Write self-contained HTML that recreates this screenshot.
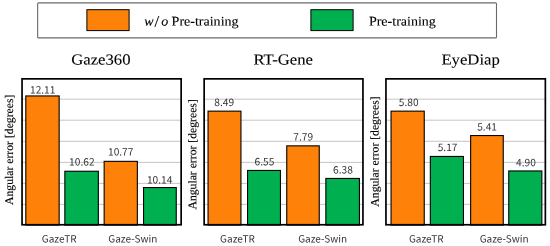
<!DOCTYPE html>
<html lang="en"><head><meta charset="utf-8"><title>Pre-training comparison</title>
<style>html,body{margin:0;padding:0;background:#fff}body{width:550px;height:246px;overflow:hidden}svg{display:block}text{text-rendering:geometricPrecision}</style></head><body>
<svg width="550" height="246" viewBox="0 0 550 246">
<rect width="550" height="246" fill="#fff"/>
<rect x="37.65" y="2.85" width="458.85" height="35.05" rx="1" ry="1" fill="#fff" stroke="#6a6a6a" stroke-width="1.1"/>
<rect x="86.9" y="9.7" width="42.2" height="20.9" fill="#fe8209" stroke="#000" stroke-width="1"/>
<rect x="310.9" y="9.7" width="42.2" height="20.9" fill="#00b050" stroke="#000" stroke-width="1"/>
<text transform="translate(144.3,25.5) rotate(0.03) scale(1.063,1)" font-family="'Liberation Serif',serif" font-size="13.2" fill="#000" stroke="#000" stroke-width="0.1"><tspan font-style="italic">w</tspan><tspan x="9.50" y="1" font-size="16">/</tspan><tspan x="15.90" y="0" font-style="italic">o</tspan><tspan x="25.68" y="0">Pre-training</tspan></text>
<text transform="translate(368.9,25.5) rotate(0.03) scale(1.063,1)" font-family="'Liberation Serif',serif" font-size="13.2" fill="#000" stroke="#000" stroke-width="0.1">Pre-training</text>
<line x1="21.2" y1="99.2" x2="182.0" y2="99.2" stroke="#bebebe" stroke-width="0.9"/>
<line x1="21.2" y1="120.2" x2="182.0" y2="120.2" stroke="#bebebe" stroke-width="0.9"/>
<line x1="21.2" y1="141.3" x2="182.0" y2="141.3" stroke="#bebebe" stroke-width="0.9"/>
<line x1="21.2" y1="162.4" x2="182.0" y2="162.4" stroke="#bebebe" stroke-width="0.9"/>
<line x1="21.2" y1="183.4" x2="182.0" y2="183.4" stroke="#bebebe" stroke-width="0.9"/>
<line x1="21.2" y1="204.4" x2="182.0" y2="204.4" stroke="#bebebe" stroke-width="0.9"/>
<rect x="25.80" y="95.95" width="33.35" height="129.10" fill="#fe8209" stroke="#000" stroke-width="1.1"/>
<text transform="translate(42.70,93.50) rotate(0.03)" text-anchor="middle" font-family="'Noto Sans CJK SC','Liberation Sans',sans-serif" font-size="10.2" fill="#333">12.11</text>
<rect x="64.85" y="171.25" width="33.50" height="53.80" fill="#00b050" stroke="#000" stroke-width="1.1"/>
<text transform="translate(81.80,165.60) rotate(0.03)" text-anchor="middle" font-family="'Noto Sans CJK SC','Liberation Sans',sans-serif" font-size="10.2" fill="#333">10.62</text>
<rect x="104.15" y="161.35" width="33.20" height="63.70" fill="#fe8209" stroke="#000" stroke-width="1.1"/>
<text transform="translate(120.70,155.60) rotate(0.03)" text-anchor="middle" font-family="'Noto Sans CJK SC','Liberation Sans',sans-serif" font-size="10.2" fill="#333">10.77</text>
<rect x="143.55" y="187.55" width="32.70" height="37.50" fill="#00b050" stroke="#000" stroke-width="1.1"/>
<text transform="translate(159.65,183.50) rotate(0.03)" text-anchor="middle" font-family="'Noto Sans CJK SC','Liberation Sans',sans-serif" font-size="10.2" fill="#333">10.14</text>
<rect x="22.05" y="78.85" width="159.10" height="145.90" fill="none" stroke="#000" stroke-width="1.7"/>
<text transform="translate(100.9,64.5) rotate(0.03) scale(1.09,1)" text-anchor="middle" font-family="'Liberation Serif',serif" font-size="15.3" fill="#000" stroke="#000" stroke-width="0.1">Gaze360</text>
<text transform="translate(13.0,149.8) rotate(-90.03)" text-anchor="middle" font-family="'Liberation Serif',serif" font-size="11.7" fill="#000" stroke="#000" stroke-width="0.15">Angular error [degrees]</text>
<text transform="translate(59.2,242.5) rotate(0.03)" text-anchor="middle" font-family="'Noto Sans CJK SC','Liberation Sans',sans-serif" font-size="10.0" fill="#333">GazeTR</text>
<text transform="translate(132.8,242.5) rotate(0.03)" text-anchor="middle" font-family="'Noto Sans CJK SC','Liberation Sans',sans-serif" font-size="10.0" fill="#333">Gaze-Swin</text>
<line x1="203.3" y1="99.2" x2="363.8" y2="99.2" stroke="#bebebe" stroke-width="0.9"/>
<line x1="203.3" y1="120.2" x2="363.8" y2="120.2" stroke="#bebebe" stroke-width="0.9"/>
<line x1="203.3" y1="141.3" x2="363.8" y2="141.3" stroke="#bebebe" stroke-width="0.9"/>
<line x1="203.3" y1="162.4" x2="363.8" y2="162.4" stroke="#bebebe" stroke-width="0.9"/>
<line x1="203.3" y1="183.4" x2="363.8" y2="183.4" stroke="#bebebe" stroke-width="0.9"/>
<line x1="203.3" y1="204.4" x2="363.8" y2="204.4" stroke="#bebebe" stroke-width="0.9"/>
<rect x="208.05" y="111.15" width="32.90" height="113.90" fill="#fe8209" stroke="#000" stroke-width="1.1"/>
<text transform="translate(224.25,105.90) rotate(0.03)" text-anchor="middle" font-family="'Noto Sans CJK SC','Liberation Sans',sans-serif" font-size="10.2" fill="#333">8.49</text>
<rect x="247.55" y="170.45" width="32.90" height="54.60" fill="#00b050" stroke="#000" stroke-width="1.1"/>
<text transform="translate(264.45,165.30) rotate(0.03)" text-anchor="middle" font-family="'Noto Sans CJK SC','Liberation Sans',sans-serif" font-size="10.2" fill="#333">6.55</text>
<rect x="286.75" y="145.85" width="32.50" height="79.20" fill="#fe8209" stroke="#000" stroke-width="1.1"/>
<text transform="translate(303.15,140.40) rotate(0.03)" text-anchor="middle" font-family="'Noto Sans CJK SC','Liberation Sans',sans-serif" font-size="10.2" fill="#333">7.79</text>
<rect x="325.85" y="178.45" width="33.60" height="46.60" fill="#00b050" stroke="#000" stroke-width="1.1"/>
<text transform="translate(342.95,173.50) rotate(0.03)" text-anchor="middle" font-family="'Noto Sans CJK SC','Liberation Sans',sans-serif" font-size="10.2" fill="#333">6.38</text>
<rect x="204.15" y="78.85" width="158.80" height="145.90" fill="none" stroke="#000" stroke-width="1.7"/>
<text transform="translate(283.2,64.6) rotate(0.03) scale(1.09,1)" text-anchor="middle" font-family="'Liberation Serif',serif" font-size="15.3" fill="#000" stroke="#000" stroke-width="0.1">RT-Gene</text>
<text transform="translate(196.3,154.4) rotate(-90.03)" text-anchor="middle" font-family="'Liberation Serif',serif" font-size="11.7" fill="#000" stroke="#000" stroke-width="0.15">Angular error [degrees]</text>
<text transform="translate(237.5,242.5) rotate(0.03)" text-anchor="middle" font-family="'Noto Sans CJK SC','Liberation Sans',sans-serif" font-size="10.0" fill="#333">GazeTR</text>
<text transform="translate(322.6,242.5) rotate(0.03)" text-anchor="middle" font-family="'Noto Sans CJK SC','Liberation Sans',sans-serif" font-size="10.0" fill="#333">Gaze-Swin</text>
<line x1="385.1" y1="99.2" x2="546.2" y2="99.2" stroke="#bebebe" stroke-width="0.9"/>
<line x1="385.1" y1="120.2" x2="546.2" y2="120.2" stroke="#bebebe" stroke-width="0.9"/>
<line x1="385.1" y1="141.3" x2="546.2" y2="141.3" stroke="#bebebe" stroke-width="0.9"/>
<line x1="385.1" y1="162.4" x2="546.2" y2="162.4" stroke="#bebebe" stroke-width="0.9"/>
<line x1="385.1" y1="183.4" x2="546.2" y2="183.4" stroke="#bebebe" stroke-width="0.9"/>
<line x1="385.1" y1="204.4" x2="546.2" y2="204.4" stroke="#bebebe" stroke-width="0.9"/>
<rect x="391.05" y="111.15" width="33.20" height="113.90" fill="#fe8209" stroke="#000" stroke-width="1.1"/>
<text transform="translate(408.75,106.00) rotate(0.03)" text-anchor="middle" font-family="'Noto Sans CJK SC','Liberation Sans',sans-serif" font-size="10.2" fill="#333">5.80</text>
<rect x="430.35" y="156.45" width="33.10" height="68.60" fill="#00b050" stroke="#000" stroke-width="1.1"/>
<text transform="translate(447.55,151.10) rotate(0.03)" text-anchor="middle" font-family="'Noto Sans CJK SC','Liberation Sans',sans-serif" font-size="10.2" fill="#333">5.17</text>
<rect x="470.65" y="135.55" width="32.60" height="89.50" fill="#fe8209" stroke="#000" stroke-width="1.1"/>
<text transform="translate(487.05,130.50) rotate(0.03)" text-anchor="middle" font-family="'Noto Sans CJK SC','Liberation Sans',sans-serif" font-size="10.2" fill="#333">5.41</text>
<rect x="508.75" y="170.95" width="33.10" height="54.10" fill="#00b050" stroke="#000" stroke-width="1.1"/>
<text transform="translate(525.95,166.30) rotate(0.03)" text-anchor="middle" font-family="'Noto Sans CJK SC','Liberation Sans',sans-serif" font-size="10.2" fill="#333">4.90</text>
<rect x="385.95" y="78.85" width="159.40" height="145.90" fill="none" stroke="#000" stroke-width="1.7"/>
<text transform="translate(470.6,64.5) rotate(0.03) scale(1.09,1)" text-anchor="middle" font-family="'Liberation Serif',serif" font-size="15.3" fill="#000" stroke="#000" stroke-width="0.1">EyeDiap</text>
<text transform="translate(378.6,151.5) rotate(-90.03)" text-anchor="middle" font-family="'Liberation Serif',serif" font-size="11.7" fill="#000" stroke="#000" stroke-width="0.15">Angular error [degrees]</text>
<text transform="translate(426.3,242.5) rotate(0.03)" text-anchor="middle" font-family="'Noto Sans CJK SC','Liberation Sans',sans-serif" font-size="10.0" fill="#333">GazeTR</text>
<text transform="translate(504.1,242.5) rotate(0.03)" text-anchor="middle" font-family="'Noto Sans CJK SC','Liberation Sans',sans-serif" font-size="10.0" fill="#333">Gaze-Swin</text>
</svg></body></html>
